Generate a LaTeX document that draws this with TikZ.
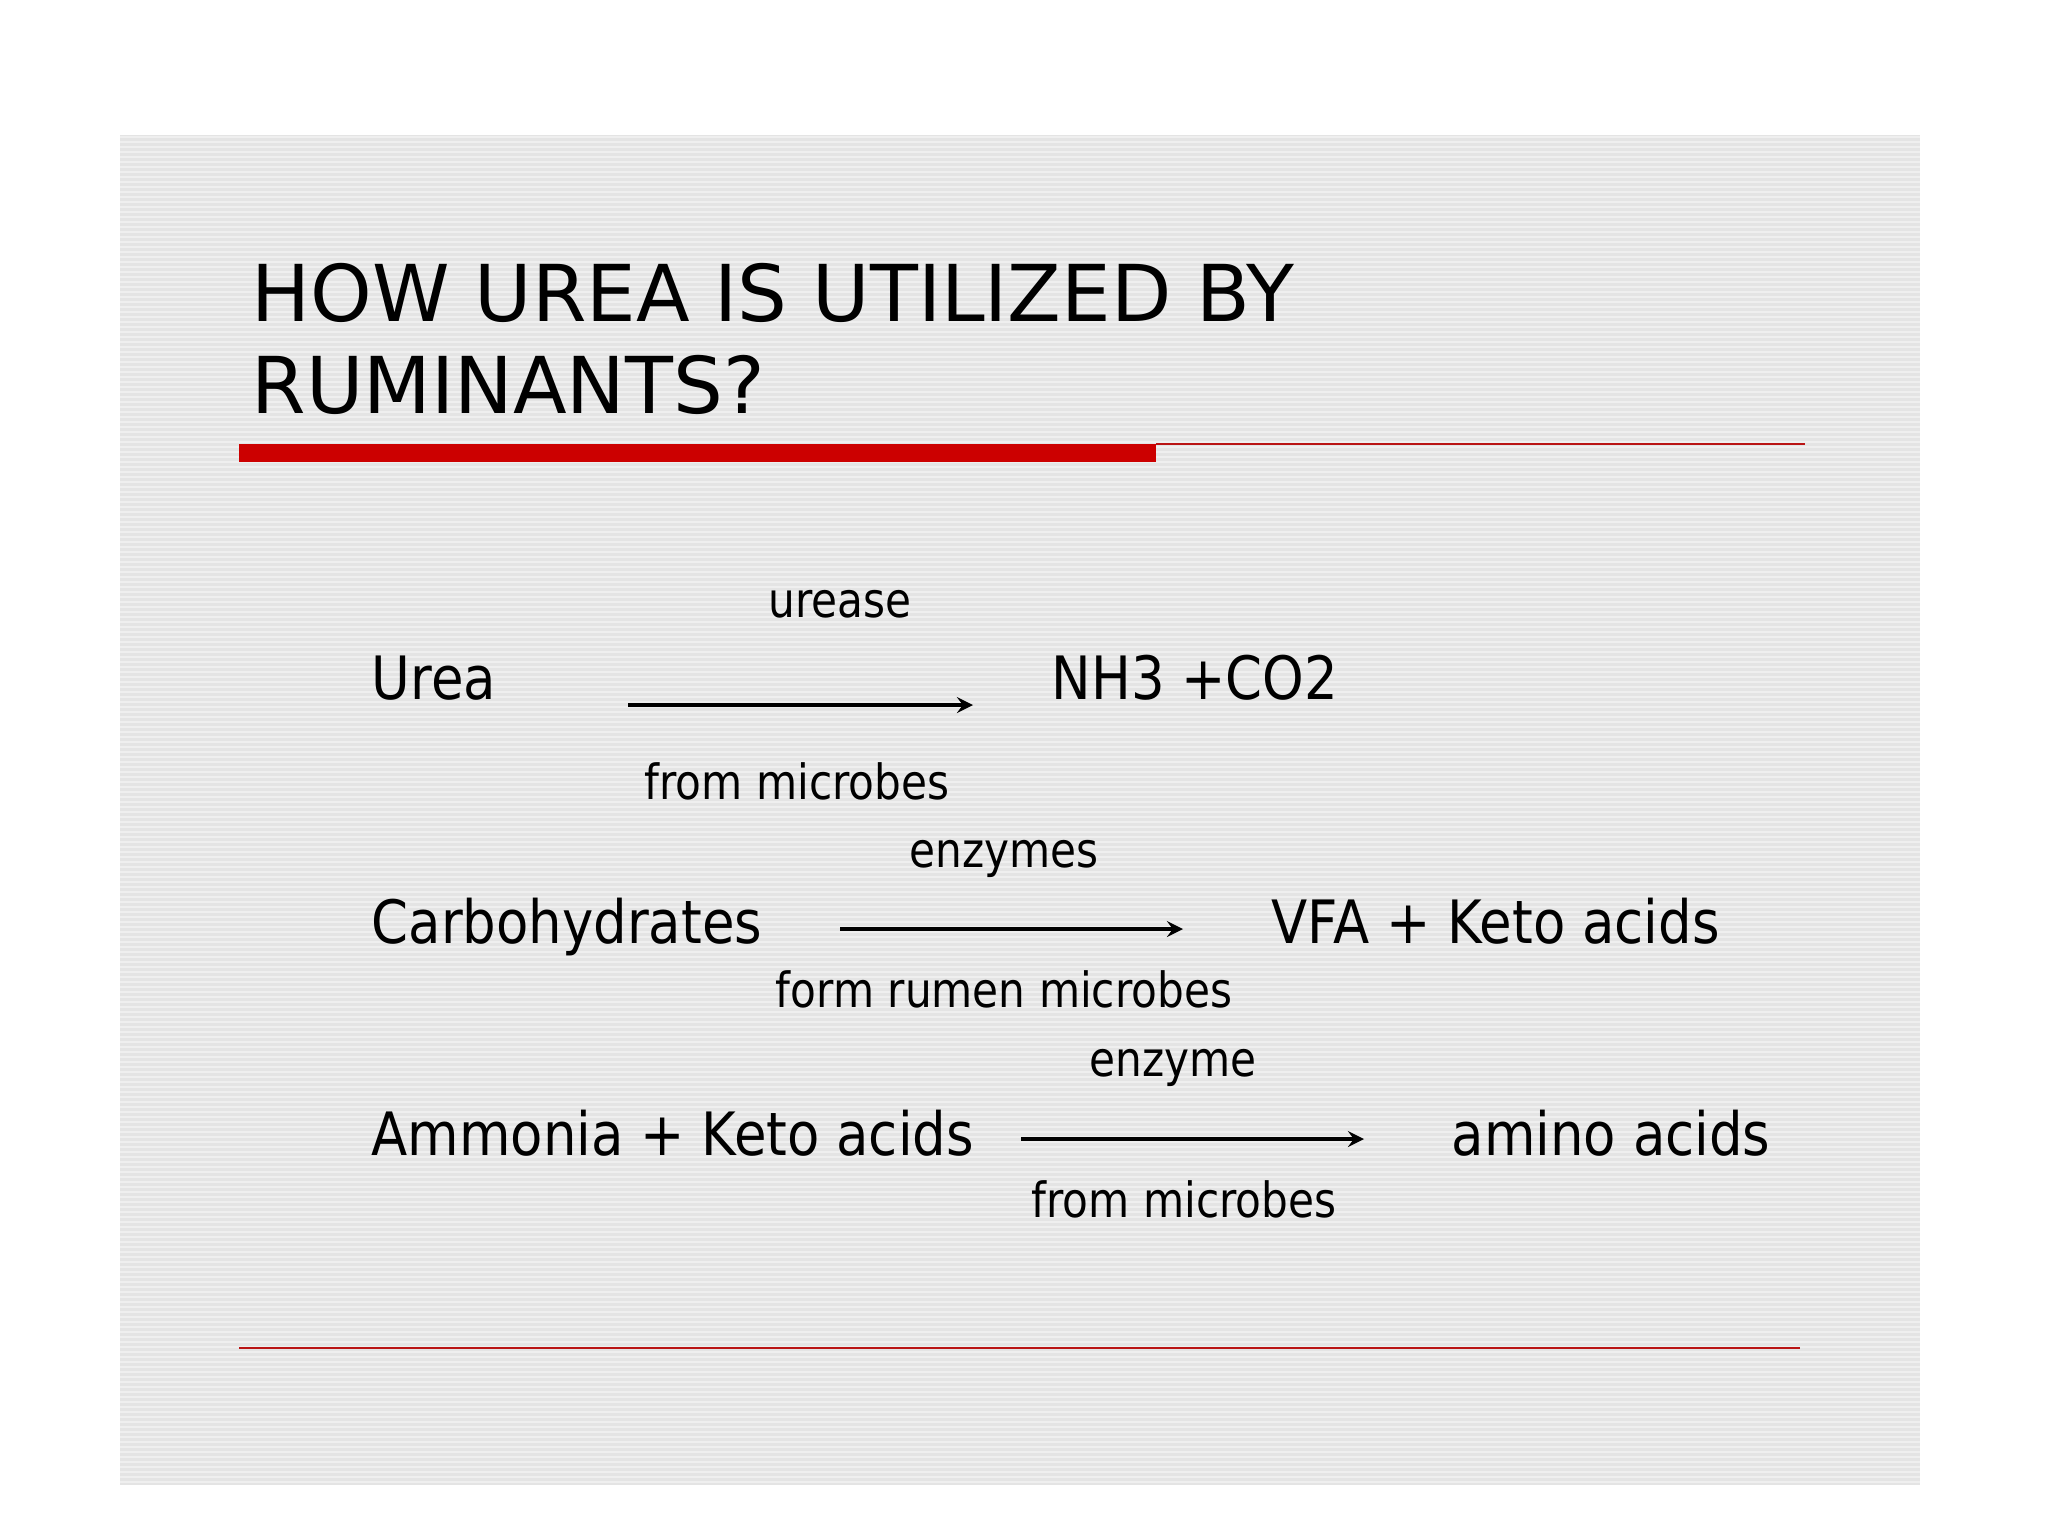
\documentclass[tikz,border=0pt]{standalone}
\usepackage{fontspec}
\setmainfont{DejaVu Sans}[FakeStretch=0.87]
\newfontfamily\titlefont{DejaVu Sans}
\newfontfamily\chemfont{DejaVu Sans}[FakeStretch=0.885]
\usetikzlibrary{positioning, arrows}
\definecolor{slidegray}{RGB}{228,228,228}
\definecolor{stripe}{RGB}{239,239,239}
\definecolor{barred}{RGB}{204,0,0}
\definecolor{linered}{RGB}{185,20,20}
\tikzset{
    x=0.01cm, y=-0.01cm, % one unit is one pixel of the slide, y runs down
    >=stealth, % small filled arrow heads
    heading/.style={inner sep=0pt, anchor=base west, font=\titlefont\fontsize{22.3}{26}\selectfont}, % slide title
    chem/.style={inner sep=0pt, anchor=base west, font=\chemfont\fontsize{17}{20}\selectfont}, % reactants and products
    enz/.style={inner sep=0pt, anchor=base, font=\fontsize{13.8}{16}\selectfont}, % words over and under an arrow
    rxn/.style={->, line width=1pt}, % reaction arrows
    rule/.style={linered, line width=0.6pt}, % thin red rules
}
\begin{document}
\begin{tikzpicture}
\useasboundingbox (0,0) rectangle (2048,1536);
\fill[white] (0,0) rectangle (2048,1536);
% striped slide background
\fill[slidegray] (120,135) rectangle (1920,1485);
\foreach \y in {137,142,...,1483}
    \draw[stripe, line width=0.6pt] (120,\y) -- (1920,\y);

% title and rules
\node[heading] (title1) at (251,321) {HOW UREA IS UTILIZED BY};
\node[heading] (title2) at (251,413) {RUMINANTS?};
\fill[barred] (239,444) rectangle (1156,462);
\draw[rule] (1156,444) -- (1805,444);
\draw[rule] (239,1348) -- (1800,1348);

% urea
\node[chem] (urea) at (371,699) {Urea};
\node[chem] (nhco) at (1051,699) {NH3 +CO2};
\coordinate (r1a) at (628,705);
\coordinate (r1b) at (973,705);
\draw[rxn] (r1a) -- (r1b);
\node[enz] (urease) at (840,617) {urease};
\node[enz] (mic1) at (797,799) {from microbes};

% carbohydrates
\node[chem] (carb) at (371,943) {Carbohydrates};
\node[chem] (vfa) at (1271,943) {VFA + Keto acids};
\coordinate (r2a) at (840,929);
\coordinate (r2b) at (1183,929);
\draw[rxn] (r2a) -- (r2b);
\node[enz] (enzs) at (1004,867) {enzymes};
\node[enz] (mic2) at (1004,1007) {form rumen microbes};

% ammonia
\node[chem] (ammo) at (371,1155) {Ammonia + Keto acids};
\node[chem] (amino) at (1451,1155) {amino acids};
\coordinate (r3a) at (1021,1139);
\coordinate (r3b) at (1364,1139);
\draw[rxn] (r3a) -- (r3b);
\node[enz] (enz) at (1173,1076) {enzyme};
\node[enz] (mic3) at (1184,1217) {from microbes};
\end{tikzpicture}
\end{document}
